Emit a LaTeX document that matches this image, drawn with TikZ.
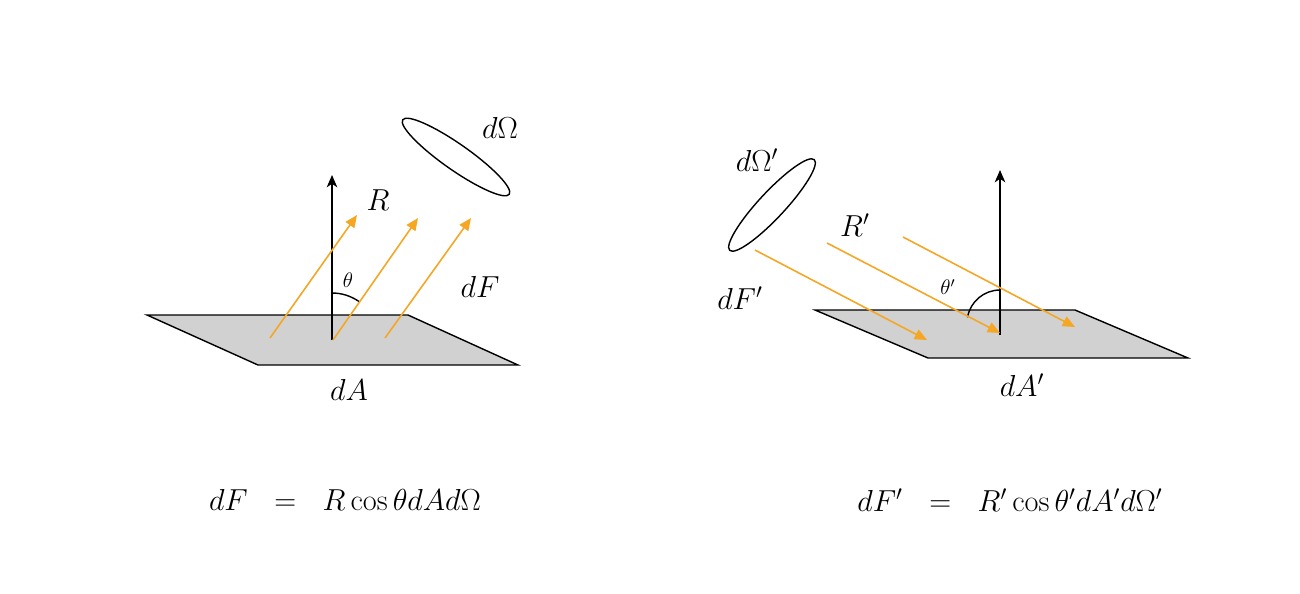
\documentclass[tikz,border=0pt]{standalone}
\usetikzlibrary{arrows.meta}
\definecolor{rayc}{HTML}{F5A623}
\begin{document}
\begin{tikzpicture}[x=0.02cm,y=-0.02cm,
  plane/.style={draw=black,fill=black!18,line width=0.8pt},
  normal/.style={-{Stealth[length=7pt,width=6pt,inset=2pt]},line width=0.8pt},
  ray/.style={-{Triangle[length=7pt,width=6pt]},draw=rayc,line width=0.9pt},
  lab/.style={font=\fontsize{17}{20}\selectfont,inner sep=0pt},
  eq/.style={font=\fontsize{17}{20}\selectfont,inner sep=0pt}]
\useasboundingbox (0,0) rectangle (1300,593);
% left
\draw[plane] (147,315) -- (408,315) -- (518,365) -- (258,365) -- cycle;
\coordinate (a0) at (332,340); \coordinate (a1) at (332,175);
\draw[normal] (a0) -- (a1);
\draw[line width=0.8pt] (332,293) arc[start angle=-90,end angle=-55,radius=47];
\node[lab,font=\fontsize{12}{14}\selectfont] (th) at (348,280) {$\theta$};
\coordinate (r1s) at (270,338); \coordinate (r1e) at (357,215);
\coordinate (r2s) at (333,340); \coordinate (r2e) at (418,218);
\coordinate (r3s) at (385,338); \coordinate (r3e) at (471,218);
\draw[ray] (r1s) -- (r1e); \draw[ray] (r2s) -- (r2e); \draw[ray] (r3s) -- (r3e);
\draw[line width=0.8pt,rotate around={-35:(456,157)}] (456,157) ellipse[x radius=65,y radius=13];
\node[lab] (dO) at (500,128) {$d\Omega$};
\node[lab] (R) at (378,200) {$R$};
\node[lab] (dF) at (480,287) {$dF$};
\node[lab] (dA) at (349,390) {$dA$};
\node[eq] (eq1) at (345,500) {$dF\ \ =\ \ R\cos\theta dAd\Omega$};
% right
\draw[plane] (815,310) -- (1075,310) -- (1188,358) -- (928,358) -- cycle;
\coordinate (b0) at (1000,335); \coordinate (b1) at (1000,170);
\draw[normal] (b0) -- (b1);
\draw[line width=0.8pt] (1000,290) arc[start angle=-90,end angle=-170,radius=33];
\node[lab,font=\fontsize{12}{14}\selectfont] (th2) at (948,287) {$\theta'$};
\coordinate (s1s) at (755,250); \coordinate (s1e) at (927,340);
\coordinate (s2s) at (827,243); \coordinate (s2e) at (1000,333);
\coordinate (s3s) at (903,237); \coordinate (s3e) at (1075,327);
\draw[ray] (s1s) -- (s1e); \draw[ray] (s2s) -- (s2e); \draw[ray] (s3s) -- (s3e);
\draw[line width=0.8pt,rotate around={47:(772,205)}] (772,205) ellipse[x radius=62,y radius=13];
\node[lab] (dO2) at (757,160) {$d\Omega'$};
\node[lab] (R2) at (855,225) {$R'$};
\node[lab] (dF2) at (740,298) {$dF'$};
\node[lab] (dA2) at (1022,385) {$dA'$};
\node[eq] (eq2) at (1010,500) {$dF'\ \ =\ \ R'\cos\theta' dA'd\Omega'$};
\end{tikzpicture}
\end{document}
